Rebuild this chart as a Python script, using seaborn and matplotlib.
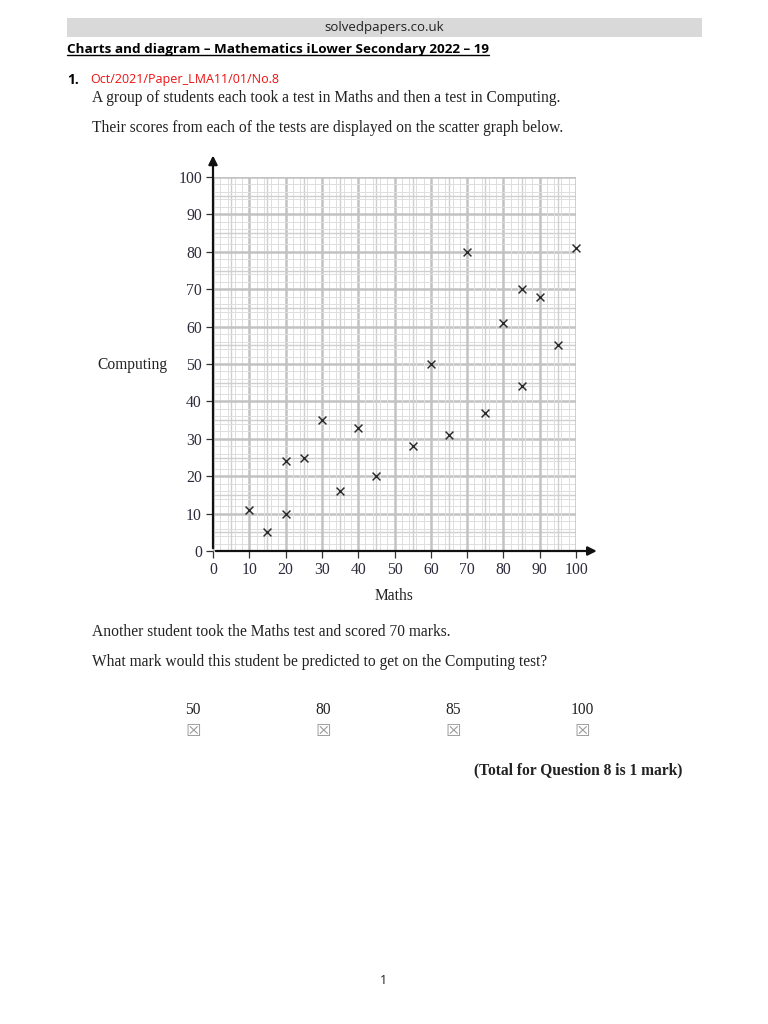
import matplotlib
matplotlib.use("Agg")
import matplotlib.pyplot as plt
import seaborn as sns
import numpy as np
import pandas as pd
from matplotlib.patches import Rectangle
from matplotlib.lines import Line2D

# ---- data ----
maths = [10, 15, 20, 20, 25, 30, 35, 40, 45, 55, 60, 65, 70, 75, 80, 85, 85, 90, 95, 100]
computing = [11, 5, 10, 24, 25, 35, 16, 33, 20, 28, 50, 31, 80, 37, 61, 44, 70, 68, 55, 81]
tick_values = [0, 10, 20, 30, 40, 50, 60, 70, 80, 90, 100]
options = ["50", "80", "85", "100"]

df = pd.DataFrame({"Maths": maths, "Computing": computing})

sns.set_style("white")
plt.rcParams['font.family'] = ['DejaVu Sans']

W, H = 768, 1024
fig = plt.figure(figsize=(W / 100, H / 100), dpi=100)

def fx(px):
    return px / W

def fy(py):
    return 1 - py / H

SERIF = ['Liberation Serif', 'DejaVu Serif']
SANS = ['Open Sans', 'Liberation Sans', 'DejaVu Sans']

# header bar
fig.add_artist(Rectangle((fx(67), fy(37)), fx(702) - fx(67), fy(18) - fy(37),
                         transform=fig.transFigure, facecolor='#d9d9d9', edgecolor='none'))
fig.text(fx(384), fy(27.5), "solvedpapers.co.uk", ha='center', va='center',
         fontsize=9.5, family=SANS, color='#222222')

title = fig.text(fx(67), fy(50), "Charts and diagram \u2013 Mathematics iLower Secondary 2022 \u2013 19",
                 ha='left', va='center', fontsize=9.7, fontweight='bold', family=SANS, color='black')
fig.text(fx(67), fy(80), "1.", ha='left', va='center', fontsize=10, fontweight='bold',
         family=SANS, color='black')
fig.text(fx(90), fy(79), "Oct/2021/Paper_LMA11/01/No.8", ha='left', va='center', fontsize=9.0,
         family=SANS, color='#ee1111')

fig.text(fx(92), fy(98), "A group of students each took a test in Maths and then a test in Computing.",
         ha='left', va='center', fontsize=11.2, family=SERIF, color='#222222')
fig.text(fx(92), fy(128), "Their scores from each of the tests are displayed on the scatter graph below.",
         ha='left', va='center', fontsize=11.2, family=SERIF, color='#222222')

# ---- axes ----
x0, x1 = 213, 576
y0, y1 = 551, 177
ax = fig.add_axes([fx(x0), fy(y0), fx(x1) - fx(x0), fy(y1) - fy(y0)])
ax.set_xlim(0, 100)
ax.set_ylim(0, 100)

# graph paper
for v in np.arange(0, 101, 1):
    if v % 10 == 0:
        c, lw = '#c2c2c2', 1.8
    elif v % 5 == 0:
        c, lw = '#cfcfcf', 1.0
    elif v % 2 == 0:
        c, lw = '#dedede', 0.7
    else:
        continue
    ax.axvline(v, color=c, lw=lw, zorder=0)
    ax.axhline(v, color=c, lw=lw, zorder=0)

sns.scatterplot(data=df, x="Maths", y="Computing", marker='x', color='#2a2a2a',
                s=32, linewidth=1.05, ax=ax, zorder=5, clip_on=False)

for s in ['top', 'right', 'left', 'bottom']:
    ax.spines[s].set_visible(False)

# axes with arrows
ax.annotate('', xy=(0, 106.5), xytext=(0, 0), xycoords='data',
            arrowprops=dict(arrowstyle='-|>', color='#111111', lw=1.6, mutation_scale=13),
            annotation_clip=False, zorder=6)
ax.annotate('', xy=(106.5, 0), xytext=(0, 0), xycoords='data',
            arrowprops=dict(arrowstyle='-|>', color='#111111', lw=1.6, mutation_scale=13),
            annotation_clip=False, zorder=6)

ax.set_xticks(tick_values)
ax.set_yticks(tick_values)
ax.set_xticklabels([str(t) for t in tick_values], family=SERIF, fontsize=11.3, color='#2b2b3b')
ax.set_yticklabels([str(t) for t in tick_values], family=SERIF, fontsize=11.3, color='#2b2b3b')
ax.tick_params(axis='both', direction='out', length=5, width=0.9, color='#333333', pad=3,
               bottom=True, left=True)
ax.set_xlabel("")
ax.set_ylabel("")

fig.text(fx(394), fy(596), "Maths", ha='center', va='center', fontsize=11.2, family=SERIF, color='#222222')
fig.text(fx(97), fy(365), "Computing", ha='left', va='center', fontsize=11.2, family=SERIF, color='#222222')

fig.text(fx(92), fy(632), "Another student took the Maths test and scored 70 marks.",
         ha='left', va='center', fontsize=11.2, family=SERIF, color='#222222')
fig.text(fx(92), fy(662), "What mark would this student be predicted to get on the Computing test?",
         ha='left', va='center', fontsize=11.2, family=SERIF, color='#222222')

opt_x = [193, 323, 453, 582]
for xo, lab in zip(opt_x, options):
    fig.text(fx(xo), fy(710), lab, ha='center', va='center', fontsize=11.2, family=SERIF, color='#222222')
    fig.text(fx(xo), fy(731), "\u2612", ha='center', va='center', fontsize=12.5, family=['DejaVu Sans'],
             color='#999999')

fig.text(fx(682), fy(770), "(Total for Question 8 is 1 mark)", ha='right', va='center',
         fontsize=11.2, fontweight='bold', family=SERIF, color='#222222')

fig.text(fx(383), fy(980), "1", ha='center', va='center', fontsize=9, family=SANS, color='#222222')

# underline the title
fig.canvas.draw()
bb = title.get_window_extent(renderer=fig.canvas.get_renderer())
inv = fig.transFigure.inverted()
(bx0, by0), (bx1, by1) = inv.transform([[bb.x0, bb.y0], [bb.x1, bb.y1]])
fig.add_artist(Line2D([bx0, bx1], [by0 + 0.001, by0 + 0.001], transform=fig.transFigure,
                      color='black', lw=1.0))

fig.savefig("out.png", dpi=100, facecolor='white')
